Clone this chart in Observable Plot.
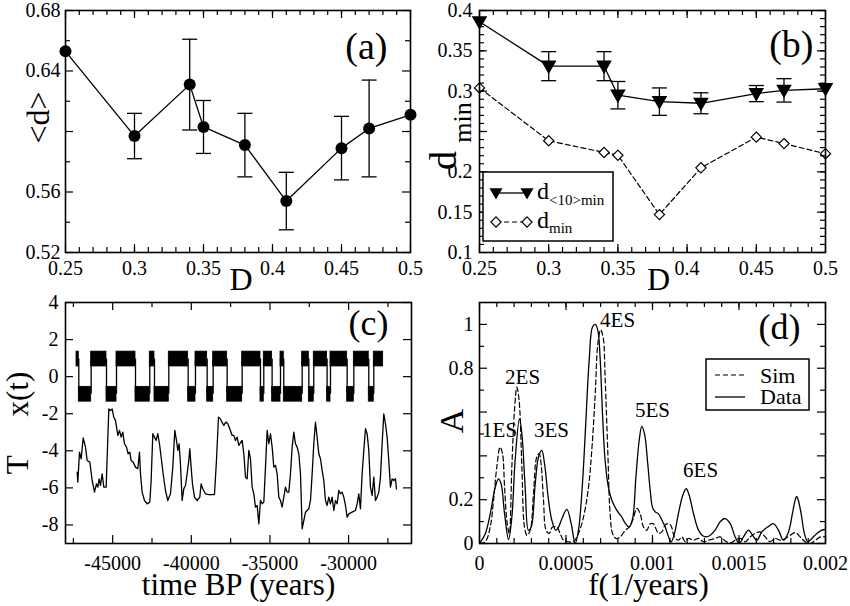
<!DOCTYPE html>
<html><head><meta charset="utf-8">
<script src="https://cdn.jsdelivr.net/npm/d3@7"></script>
<script src="https://cdn.jsdelivr.net/npm/@observablehq/plot@0.6"></script>
<style>
body{margin:0;background:#fff;}
#fig{position:relative;width:850px;height:606px;overflow:hidden;background:#fff;}
#fig svg{position:absolute;}
</style></head><body><div id="fig"></div>
<script>
// ---------- DATA ----------
// panels (a),(b): noise intensity D
const D = [0.25, 0.3, 0.34, 0.35, 0.38, 0.41, 0.45, 0.47, 0.5];
const meanD = [0.653, 0.597, 0.631, 0.603, 0.591, 0.554, 0.589, 0.602, 0.611];
const meanDErr = [0, 0.015, 0.030, 0.0175, 0.021, 0.019, 0.021, 0.032, 0];
const dMin10 = [0.386, 0.331, 0.331, 0.295, 0.287, 0.285, 0.297, 0.301, 0.303];
const dMin10Err = [0, 0.018, 0.018, 0.017, 0.017, 0.013, 0.010, 0.0145, 0];
const dMin = [0.304, 0.2385, 0.224, 0.2205, 0.147, 0.205, 0.243, 0.235, 0.2225];

// panel (c): simulated x(t) state switches (years BP) and state in each interval
const xSwitch = [-47300,-47154,-46368,-45393,-44757,-43549,-42640,-42341,-41432,-40201,-39735,-38992,-38611,-37721,-36766,-35602,-35392,-34862,-34330,-34120,-32951,-32527,-32214,-31365,-31151,-30091,-29667,-28716,-28398,-27801];
const xState = [1,-1,1,-1,1,-1,1,-1,1,-1,1,-1,1,-1,1,-1,1,-1,1,-1,1,-1,1,-1,1,-1,1,-1,1];
const xHighBand = [0.55, 1.35];
const xLowBand = [-1.35, -0.55];
// panel (c): temperature record T (time BP, value)
const tSeries = [[-47259,-5.15],[-47216,-5.69],[-47110,-4.07],[-47004,-4.43],[-46877,-3.30],[-46729,-3.80],[-46623,-4.52],[-46453,-4.61],[-46305,-5.60],[-46157,-6.23],[-46030,-5.78],[-45945,-5.96],[-45860,-5.51],[-45775,-5.87],[-45669,-5.24],[-45563,-5.96],[-45415,-5.96],[-45246,-1.74],[-45140,-1.83],[-45034,-1.74],[-44928,-2.19],[-44822,-2.36],[-44673,-3.17],[-44567,-2.90],[-44462,-3.26],[-44356,-2.99],[-44250,-3.62],[-44122,-3.80],[-44016,-4.16],[-43910,-4.07],[-43826,-4.52],[-43699,-4.61],[-43550,-4.88],[-43402,-4.97],[-43296,-4.07],[-43232,-5.24],[-43127,-6.23],[-42978,-6.68],[-42809,-6.86],[-42640,-6.77],[-42554,-5.60],[-42448,-3.08],[-42342,-3.26],[-42237,-3.44],[-42131,-3.08],[-42025,-3.62],[-41919,-4.34],[-41792,-5.24],[-41643,-6.14],[-41495,-6.68],[-41325,-6.32],[-41177,-4.88],[-41050,-2.90],[-40944,-3.44],[-40859,-3.98],[-40775,-3.62],[-40690,-4.70],[-40584,-6.68],[-40478,-6.05],[-40372,-5.87],[-40266,-5.24],[-40160,-4.52],[-40096,-3.89],[-40012,-4.88],[-39927,-5.78],[-39800,-6.50],[-39630,-6.68],[-39461,-6.50],[-39376,-5.78],[-39270,-6.05],[-39100,-6.32],[-38888,-6.36],[-38528,-6.36],[-38401,-4.52],[-38274,-2.19],[-38147,-2.28],[-38019,-2.51],[-37935,-2.63],[-37808,-2.45],[-37681,-2.54],[-37554,-2.81],[-37405,-3.17],[-37299,-3.17],[-37194,-3.44],[-37088,-3.26],[-36982,-3.71],
[-36767,-3.44],[-36661,-4.16],[-36555,-5.42],[-36450,-5.51],[-36344,-3.98],[-36238,-4.43],[-36132,-5.96],[-36026,-6.32],[-35920,-7.04],[-35814,-6.95],[-35708,-7.94],[-35602,-6.68],[-35496,-6.86],[-35390,-6.77],[-35284,-4.88],[-35178,-2.90],[-35072,-3.62],[-34966,-3.08],[-34860,-3.80],[-34754,-4.88],[-34648,-4.79],[-34542,-5.24],[-34436,-6.50],[-34331,-6.68],[-34225,-7.04],[-34119,-6.50],[-34013,-5.96],[-33907,-6.23],[-33801,-6.23],[-33695,-5.24],[-33589,-3.80],[-33483,-2.99],[-33377,-3.62],[-33271,-3.80],[-33165,-4.16],[-33059,-5.24],[-32953,-8.21],[-32847,-7.76],[-32741,-7.31],[-32635,-7.22],[-32529,-7.13],[-32423,-6.68],[-32317,-5.24],[-32212,-3.62],[-32106,-2.45],[-32000,-3.26],[-31894,-4.16],[-31788,-4.43],[-31682,-5.06],[-31576,-5.60],[-31470,-6.68],[-31364,-6.95],[-31258,-6.50],[-31152,-6.86],[-31046,-6.50],[-30940,-7.22],[-30834,-6.68],[-30728,-6.86],[-30622,-6.14],[-30516,-6.32],[-30410,-6.23],[-30304,-6.50],[-30198,-6.95],[-30092,-7.58],[-29986,-7.40],[-29775,-7.31],[-29563,-7.22],[-29457,-6.86],[-29351,-6.32],[-29245,-7.13],[-29139,-5.24],[-29033,-3.98],[-28927,-2.81],[-28821,-3.08],[-28715,-3.98],[-28609,-5.96],[-28503,-6.41],[-28397,-5.42],[-28292,-6.68],[-28186,-6.50],[-28080,-6.23],[-27974,-5.42],[-27868,-3.62],[-27762,-2.01],[-27656,-2.54],[-27550,-3.26],[-27444,-4.52],[-27338,-5.96],[-27232,-5.51],[-27126,-5.60],[-27020,-5.51],[-26957,-6.05]];

// panel (d): spectra, frequency in units of 1e-4 1/years, amplitude A
const dataSpec = [[0,0],[0.33,0.043],[0.62,0.135],[0.91,0.257],[1.10,0.295],[1.25,0.272],[1.45,0.135],[1.68,0.018],[1.87,0.12],[2.06,0.38],[2.31,0.57],[2.45,0.50],[2.64,0.257],[2.83,0.06],[2.99,0.075],[3.22,0.272],[3.41,0.395],[3.60,0.425],[3.76,0.364],[3.99,0.197],[4.18,0.106],[4.41,0.06],[4.57,0.075],[4.76,0.113],[5.05,0.156],[5.30,0.091],[5.53,0.0],[5.72,0.06],[5.95,0.272],[6.14,0.546],[6.34,0.836],[6.53,0.988],[6.69,1.0],[6.84,0.973],[6.97,0.851],[7.11,0.592],[7.26,0.38],[7.45,0.257],[7.65,0.197],[7.94,0.151],[8.23,0.12],[8.42,0.093],[8.65,0.075],[8.85,0.113],[9.04,0.302],[9.23,0.47],[9.38,0.535],[9.54,0.50],[9.73,0.36],[9.87,0.24],[10.0,0.165],[10.15,0.145],[10.35,0.135],[10.54,0.107],[10.73,0.076],[10.93,0.03],[11.08,0.008],[11.27,0.046],[11.5,0.137],[11.75,0.22],[11.95,0.25],[12.12,0.22],[12.37,0.137],[12.66,0.061],[12.95,0.033],[13.24,0.033],[13.62,0.061],[13.91,0.099],[14.2,0.114],[14.49,0.091],[14.78,0.03],[15.01,0.0],[15.26,0.03],[15.55,0.061],[15.78,0.038],[16.03,0.015],[16.32,0.053],[16.67,0.076],[16.99,0.091],[17.28,0.061],[17.57,0.015],[17.86,0.053],[18.09,0.137],[18.25,0.2],[18.33,0.215],[18.42,0.2],[18.59,0.137],[18.78,0.046],[18.98,0.008],[19.21,0.023],[19.5,0.046],[19.79,0.061],[20.0,0.064]];
const simSpec = [[0,0],[0.33,0.008],[0.62,0.075],[0.81,0.197],[1.0,0.349],[1.19,0.44],[1.33,0.41],[1.45,0.257],[1.58,0.106],[1.72,0.046],[1.87,0.349],[2.02,0.607],[2.16,0.714],[2.29,0.653],[2.45,0.349],[2.6,0.075],[2.74,0.038],[2.93,0.06],[3.12,0.227],[3.31,0.395],[3.45,0.41],[3.56,0.364],[3.7,0.197],[3.85,0.06],[4.03,0.046],[4.22,0.075],[4.47,0.075],[4.66,0.046],[4.86,0.015],[5.14,0.008],[5.43,0.008],[5.72,0.046],[6.01,0.12],[6.3,0.257],[6.49,0.425],[6.69,0.683],[6.84,0.911],[7.0,0.975],[7.15,0.94],[7.26,0.76],[7.42,0.41],[7.55,0.135],[7.69,0.046],[7.88,0.023],[8.13,0.03],[8.42,0.06],[8.65,0.075],[8.85,0.106],[9.1,0.16],[9.29,0.135],[9.48,0.075],[9.67,0.06],[9.86,0.09],[10.05,0.09],[10.15,0.076],[10.35,0.046],[10.54,0.053],[10.73,0.084],[10.93,0.091],[11.08,0.08],[11.27,0.03],[11.5,0.015],[11.7,0.03],[11.89,0.008],[12.08,0.023],[12.37,0.015],[12.66,0.023],[12.95,0.008],[13.24,0.015],[13.62,0.023],[13.91,0.03],[14.2,0.012],[14.49,0.003],[14.78,0.015],[15.07,0.023],[15.36,0.008],[15.65,0.03],[15.93,0.046],[16.22,0.053],[16.51,0.03],[16.8,0.008],[17.09,0.023],[17.38,0.015],[17.67,0.023],[17.96,0.038],[18.25,0.05],[18.54,0.03],[18.83,0.008],[19.13,0.0],[19.42,0.015],[19.7,0.03],[20.0,0.03]];
const esNames = ["1ES","2ES","3ES","4ES","5ES","6ES"];
const esF = [1.16, 2.49, 4.16, 7.98, 10.0, 12.78];   // x1e-4
const esA = [0.516, 0.758, 0.516, 1.018, 0.607, 0.333];

// tick labels
const aXLabels = [0.25, 0.3, 0.35, 0.4, 0.45, 0.5];
const aYLabels = [0.52, 0.56, 0.64, 0.68];
const bYLabels = [0.1, 0.15, 0.2, 0.3, 0.35, 0.4];
const cXLabels = [-45000, -40000, -35000, -30000];
const cYLabels = [-8, -6, -4, -2, 0, 2, 4];
const dXLabels = [0, 0.0005, 0.001, 0.0015, 0.002];
const dYLabels = [0, 0.2, 0.8, 1];

// ---------- HELPERS ----------
const FONT = '"Liberation Serif", serif';
const fig = document.getElementById("fig");
const E4 = 1e-4;

const hbar = {draw(ctx, size){const r = Math.sqrt(size/Math.PI); ctx.moveTo(-r,0); ctx.lineTo(r,0);}};
const triDown = {draw(ctx, size){const r = Math.sqrt(size/Math.PI); ctx.moveTo(-r,-r*0.75); ctx.lineTo(r,-r*0.75); ctx.lineTo(0,r*1.0); ctx.closePath();}};

const label = (txt, o) => Plot.text([txt], {text: d => d, ...o});

function serifize(svg) {
  svg.setAttribute("font-family", FONT);
  svg.querySelectorAll("g, text").forEach(el => {
    if (el.hasAttribute("font-family") || el.tagName === "text") el.setAttribute("font-family", FONT);
  });
  svg.querySelectorAll("text").forEach(el => { el.style.fontFamily = FONT; });
}

function panel(c) {
  const fw = c.width - c.ml - c.mr, fh = c.height - c.mt - c.mb;
  const L = 8, l = 5, sw = 1.2;
  const tk = [
    Plot.tickX(c.xMajor, {x: d => d, insetTop: fh - L, strokeWidth: sw}),
    Plot.tickX(c.xMajor, {x: d => d, insetBottom: fh - L, strokeWidth: sw}),
    Plot.tickY(c.yMajor, {y: d => d, insetRight: fw - L, strokeWidth: sw}),
    Plot.tickY(c.yMajor, {y: d => d, insetLeft: fw - L, strokeWidth: sw})
  ];
  if (c.xMinor) tk.push(
    Plot.tickX(c.xMinor, {x: d => d, insetTop: fh - l, strokeWidth: sw}),
    Plot.tickX(c.xMinor, {x: d => d, insetBottom: fh - l, strokeWidth: sw}));
  if (c.yMinor) tk.push(
    Plot.tickY(c.yMinor, {y: d => d, insetRight: fw - l, strokeWidth: sw}),
    Plot.tickY(c.yMinor, {y: d => d, insetLeft: fw - l, strokeWidth: sw}));
  const svg = Plot.plot({
    width: c.width, height: c.height,
    marginLeft: c.ml, marginRight: c.mr, marginTop: c.mt, marginBottom: c.mb,
    x: {domain: c.xDomain}, y: {domain: c.yDomain},
    style: {fontFamily: FONT, fontSize: "20px", background: "transparent", overflow: "visible", color: "black"},
    marks: [
      ...c.marks,
      ...tk,
      Plot.frame({stroke: "black", strokeWidth: 1.6}),
      Plot.axisX(c.xLabels, {anchor: "bottom", tickSize: 0, tickPadding: c.xPad, tickFormat: d => String(d), label: null, fontSize: 20}),
      Plot.axisY(c.yLabels, {anchor: "left", tickSize: 0, tickPadding: c.yPad, tickFormat: d => String(d), label: null, fontSize: 20}),
      ...c.texts
    ]
  });
  serifize(svg);
  svg.style.left = c.left + "px";
  svg.style.top = c.top + "px";
  fig.append(svg);
}

function errRows(xs, ys, es) {
  return xs.map((x, i) => ({x, y: ys[i], lo: ys[i] - es[i], hi: ys[i] + es[i], e: es[i]})).filter(d => d.e > 0);
}
const rows = (xs, ys) => xs.map((x, i) => ({x, y: ys[i]}));

// ---------- PANEL (a) ----------
const aRows = rows(D, meanD), aErr = errRows(D, meanD, meanDErr);
panel({
  left: 0, top: 0, width: 425, height: 290, ml: 65, mr: 15, mt: 10, mb: 38,
  xDomain: [0.25, 0.5], yDomain: [0.52, 0.68],
  xMajor: [0.25, 0.3, 0.35, 0.4, 0.45, 0.5], xMinor: d3.range(0.26, 0.5, 0.01),
  yMajor: [0.52, 0.56, 0.6, 0.64, 0.68], yMinor: [0.54, 0.58, 0.62, 0.66],
  xLabels: aXLabels, yLabels: aYLabels, xPad: 8, yPad: 5,
  marks: [
    Plot.ruleX(aErr, {x: "x", y1: "lo", y2: "hi", strokeWidth: 1.3}),
    Plot.dot(aErr, {x: "x", y: "hi", symbol: hbar, r: 7.5, stroke: "black", fill: "none", strokeWidth: 1.3}),
    Plot.dot(aErr, {x: "x", y: "lo", symbol: hbar, r: 7.5, stroke: "black", fill: "none", strokeWidth: 1.3}),
    Plot.line(aRows, {x: "x", y: "y", stroke: "black", strokeWidth: 1.3}),
    Plot.dot(aRows, {x: "x", y: "y", r: 6, fill: "black", stroke: "none"})
  ],
  texts: [
    label("(a)", {frameAnchor: "top-right", textAnchor: "end", lineAnchor: "bottom", dx: -23, dy: 48, fontSize: 38}),
    label("<d>", {frameAnchor: "left", rotate: -90, textAnchor: "middle", lineAnchor: "bottom", dx: -17, dy: -14, fontSize: 32}),
    label("D", {frameAnchor: "bottom", textAnchor: "middle", lineAnchor: "bottom", dx: 3, dy: 37, fontSize: 32})
  ]
});

// ---------- PANEL (b) ----------
const bRows = rows(D, dMin10), bErr = errRows(D, dMin10, dMin10Err), bMin = rows(D, dMin);
panel({
  left: 425, top: 0, width: 425, height: 290, ml: 54, mr: 25, mt: 10, mb: 38,
  xDomain: [0.25, 0.5], yDomain: [0.1, 0.4],
  xMajor: [0.25, 0.3, 0.35, 0.4, 0.45, 0.5], xMinor: d3.range(0.26, 0.5, 0.01),
  yMajor: [0.1, 0.15, 0.2, 0.25, 0.3, 0.35, 0.4], yMinor: d3.range(0.11, 0.4, 0.01),
  xLabels: aXLabels, yLabels: bYLabels, xPad: 8, yPad: 7,
  marks: [
    Plot.line(bMin, {x: "x", y: "y", stroke: "black", strokeWidth: 1.2, strokeDasharray: "5,3"}),
    Plot.dot(bMin, {x: "x", y: "y", symbol: "diamond2", r: 4.6, fill: "white", stroke: "black", strokeWidth: 1.2}),
    Plot.ruleX(bErr, {x: "x", y1: "lo", y2: "hi", strokeWidth: 1.3}),
    Plot.dot(bErr, {x: "x", y: "hi", symbol: hbar, r: 7.5, stroke: "black", fill: "none", strokeWidth: 1.3}),
    Plot.dot(bErr, {x: "x", y: "lo", symbol: hbar, r: 7.5, stroke: "black", fill: "none", strokeWidth: 1.3}),
    Plot.line(bRows, {x: "x", y: "y", stroke: "black", strokeWidth: 1.3}),
    Plot.dot(bRows, {x: "x", y: "y", symbol: triDown, r: 6.5, fill: "black", stroke: "black"})
  ],
  texts: [
    label("(b)", {frameAnchor: "top-right", textAnchor: "end", lineAnchor: "bottom", dx: -12, dy: 46, fontSize: 38}),
    label("d", {frameAnchor: "left", rotate: -90, textAnchor: "middle", lineAnchor: "bottom", dx: -24, dy: 29, fontSize: 38}),
    label("min", {frameAnchor: "left", rotate: -90, textAnchor: "middle", lineAnchor: "bottom", dx: -9, dy: -9, fontSize: 26}),
    label("D", {frameAnchor: "bottom", textAnchor: "middle", lineAnchor: "bottom", dx: 6, dy: 37, fontSize: 32})
  ]
});

// ---------- PANEL (c) ----------
const segs = xState.map((s, i) => ({t0: xSwitch[i], t1: xSwitch[i + 1], lo: s > 0 ? xHighBand[0] : xLowBand[0], hi: s > 0 ? xHighBand[1] : xLowBand[1]}));
const tRows = tSeries.map(([t, v]) => ({t, v}));
panel({
  left: 0, top: 290, width: 425, height: 316, ml: 65, mr: 14, mt: 12, mb: 63,
  xDomain: [-48000, -26000], yDomain: [-9, 4],
  xMajor: [-45000, -40000, -35000, -30000], xMinor: [-47500, -42500, -37500, -32500, -27500],
  yMajor: [-8, -6, -4, -2, 0, 2, 4], yMinor: null,
  xLabels: cXLabels, yLabels: cYLabels, xPad: 12, yPad: 7,
  marks: [
    Plot.rect(segs, {x1: "t0", x2: "t1", y1: "lo", y2: "hi", fill: "black", stroke: "black", strokeWidth: 0.8}),
    Plot.ruleX(xSwitch.slice(1, -1), {x: d => d, y1: -0.95, y2: 0.95, strokeWidth: 1.3}),
    Plot.line(tRows, {x: "t", y: "v", stroke: "black", strokeWidth: 1.3})
  ],
  texts: [
    label("(c)", {frameAnchor: "top-right", textAnchor: "end", lineAnchor: "bottom", dx: -23, dy: 32, fontSize: 36}),
    label("T\u00a0\u00a0\u00a0\u00a0\u00a0x(t)", {frameAnchor: "left", rotate: -90, textAnchor: "middle", lineAnchor: "bottom", dx: -38, dy: 0, fontSize: 31}),
    label("time BP (years)", {frameAnchor: "bottom", textAnchor: "middle", lineAnchor: "bottom", dx: 0, dy: 51, fontSize: 31})
  ]
});

// ---------- PANEL (d) ----------
const dRows = dataSpec.map(([f, a]) => ({f: f * E4, a}));
const sRows = simSpec.map(([f, a]) => ({f: f * E4, a}));
const esRows = esNames.map((n, i) => ({n, f: esF[i] * E4, a: esA[i]}));
panel({
  left: 425, top: 290, width: 425, height: 316, ml: 54, mr: 25, mt: 12, mb: 63,
  xDomain: [0, 0.002], yDomain: [0, 1.1],
  xMajor: [0, 0.0005, 0.001, 0.0015, 0.002], xMinor: d3.range(1, 20).map(i => i * E4),
  yMajor: [0, 0.2, 0.4, 0.6, 0.8, 1.0], yMinor: [0.1, 0.3, 0.5, 0.7, 0.9],
  xLabels: dXLabels, yLabels: dYLabels, xPad: 12, yPad: 6,
  marks: [
    Plot.line(sRows, {x: "f", y: "a", stroke: "black", strokeWidth: 1.2, strokeDasharray: "5,3", curve: "catmull-rom", clip: true}),
    Plot.line(dRows, {x: "f", y: "a", stroke: "black", strokeWidth: 1.3, curve: "catmull-rom", clip: true}),
    Plot.text(esRows, {x: "f", y: "a", text: "n", fontSize: 21, textAnchor: "middle", lineAnchor: "middle"})
  ],
  texts: [
    label("(d)", {frameAnchor: "top-right", textAnchor: "end", lineAnchor: "bottom", dx: -25, dy: 36, fontSize: 36}),
    label("A", {frameAnchor: "left", rotate: -90, textAnchor: "middle", lineAnchor: "bottom", dx: -17, dy: -2, fontSize: 34}),
    label("f(1/years)", {frameAnchor: "bottom", textAnchor: "middle", lineAnchor: "bottom", dx: -4, dy: 51, fontSize: 31})
  ]
});

// ---------- LEGENDS (overlay) ----------
const leg = d3.create("svg").attr("width", 850).attr("height", 606)
  .style("left", "0px").style("top", "0px").style("pointer-events", "none");
const ltext = (x, y, size, s) => leg.append("text").attr("x", x).attr("y", y).attr("font-size", size).attr("font-family", FONT).text(s);
// legend (b)
leg.append("rect").attr("x", 483).attr("y", 172).attr("width", 130).attr("height", 69)
  .attr("fill", "white").attr("stroke", "black").attr("stroke-width", 1.5);
leg.append("line").attr("x1", 496).attr("x2", 527).attr("y1", 193).attr("y2", 193).attr("stroke", "black").attr("stroke-width", 1.3);
for (const x of [496, 527]) {
  leg.append("path").attr("d", d3.symbol(triDown, Math.PI * 6.5 * 6.5)()).attr("transform", `translate(${x},193)`).attr("fill", "black");
}
ltext(537, 199, 24, "d");
ltext(549, 205, 15, "<10>min");
leg.append("line").attr("x1", 496).attr("x2", 527).attr("y1", 222).attr("y2", 222).attr("stroke", "black").attr("stroke-width", 1.2).attr("stroke-dasharray", "5,3");
for (const x of [496, 527]) {
  leg.append("path").attr("d", d3.symbol(d3.symbolDiamond2, Math.PI * 4.6 * 4.6)()).attr("transform", `translate(${x},222)`).attr("fill", "white").attr("stroke", "black").attr("stroke-width", 1.2);
}
ltext(537, 228, 24, "d");
ltext(549, 233, 15, "min");
// legend (d)
leg.append("rect").attr("x", 706).attr("y", 359).attr("width", 103).attr("height", 51)
  .attr("fill", "white").attr("stroke", "black").attr("stroke-width", 1.5);
leg.append("line").attr("x1", 715).attr("x2", 745).attr("y1", 375).attr("y2", 375).attr("stroke", "black").attr("stroke-width", 1.2).attr("stroke-dasharray", "5,3");
ltext(760, 383, 22, "Sim");
leg.append("line").attr("x1", 715).attr("x2", 745).attr("y1", 397).attr("y2", 397).attr("stroke", "black").attr("stroke-width", 1.3);
ltext(760, 404, 22, "Data");
fig.append(leg.node());
</script></body></html>
